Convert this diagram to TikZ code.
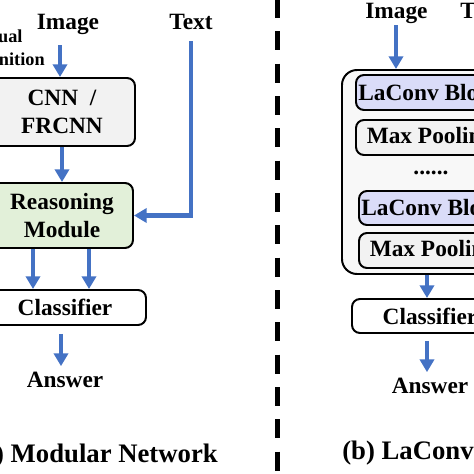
\documentclass[tikz,border=0pt]{standalone}
\usepackage{fontspec}
\setmainfont{Liberation Serif}
\usetikzlibrary{arrows.meta}

\definecolor{flowblue}{HTML}{4472C4}
\definecolor{cnngray}{HTML}{F2F2F2}
\definecolor{reasongreen}{HTML}{E2F0D9}
\definecolor{laconvblue}{HTML}{DADCF8}
\definecolor{outergray}{HTML}{F8F8F8}

\begin{document}
\begin{tikzpicture}[
  font=\bfseries\fontsize{16.6}{20}\selectfont,
  box/.style={draw, line width=1.4pt, rounded corners=0.2cm, align=center, inner sep=0pt},
  lbl/.style={inner sep=0pt, anchor=base},
  flow/.style={draw=flowblue, line width=3.5pt, -{Triangle[width=10pt,length=9pt]}}
]
  \useasboundingbox (0,0) rectangle (11.85,11.85);
  \clip (0,0) rectangle (11.85,11.85);

  % (a) modular network
  \node[lbl] (imgA) at (1.70, 11.125) {Image};
  \node[lbl] (txtA) at (4.775, 11.125) {Text};
  \node[align=center, inner sep=0pt, font=\bfseries\fontsize{13}{16.4}\selectfont] (visual) at (-0.05, 10.60) {Visual\\Recognition};
  \node[box, fill=cnngray, minimum width=3.65cm, minimum height=1.70cm] (cnn) at (1.55, 9.05) {CNN~~/\\FRCNN};
  \node[box, fill=reasongreen, minimum width=3.55cm, minimum height=1.625cm] (reason) at (1.55, 6.4625) {Reasoning\\Module};
  \node[box, fill=white, minimum width=4.05cm, minimum height=0.875cm] (clsA) at (1.625, 4.1625) {Classifier};
  \node[lbl] (ansA) at (1.625, 2.175) {Answer};
  \node[lbl, anchor=base east, font=\bfseries\fontsize{19}{23}\selectfont] (capA) at (5.45, 0.30) {(a) Modular Network};

  \coordinate (imgTailA) at (1.50, 10.725);
  \coordinate (txtTail) at (4.775, 10.825);
  \draw[flow] (imgTailA) -- (imgTailA |- cnn.north);
  \draw[flow] (cnn.south) -- (reason.north);
  \draw[flow] (txtTail) |- (reason.east);
  \draw[flow] ([xshift=-0.725cm]reason.south) -- ([xshift=-0.725cm]reason.south |- clsA.north);
  \draw[flow] ([xshift=0.675cm]reason.south) -- ([xshift=0.675cm]reason.south |- clsA.north);
  \draw[flow, shorten <=0.2cm, shorten >=0.13cm] ([xshift=-0.1cm]clsA.south) -- ([xshift=-0.1cm]clsA.south |- ansA.north);

  % separator
  \draw[line width=3.5pt, dash pattern=on 13.5pt off 9.5pt] (6.94, 11.875) -- (6.94, -0.05);

  % (b) laconvnet
  \node[lbl] (imgB) at (9.9125, 11.40) {Image};
  \node[lbl, anchor=base west] (txtB) at (11.50, 11.40) {Text};
  \node[box, fill=outergray, rounded corners=0.375cm, minimum width=4.40cm, minimum height=5.10cm] (outer) at (10.75, 7.55) {};
  \node[box, fill=laconvblue, minimum width=3.70cm, minimum height=0.875cm] (lac1) at (10.75, 9.5375) {LaConv Block};
  \node[box, fill=cnngray, minimum width=3.70cm, minimum height=0.875cm] (pool1) at (10.75, 8.4125) {Max Pooling};
  \node[lbl] (dots) at (10.775, 7.475) {......};
  \node[box, fill=laconvblue, minimum width=3.70cm, minimum height=0.85cm] (lac2) at (10.825, 6.65) {LaConv Block};
  \node[box, fill=cnngray, minimum width=3.70cm, minimum height=0.875cm] (pool2) at (10.825, 5.5875) {Max Pooling};
  \node[box, fill=white, minimum width=3.90cm, minimum height=0.85cm] (clsB) at (10.75, 3.95) {Classifier};
  \node[lbl] (ansB) at (10.75, 2.025) {Answer};
  \node[lbl, anchor=base west, font=\bfseries\fontsize{19}{23}\selectfont] (capB) at (8.55, 0.35) {(b) LaConvNet};

  \coordinate (imgTailB) at (9.90, 11.225);
  \draw[flow] (imgTailB) -- (imgTailB |- outer.north);
  \draw[flow] ([xshift=-0.075cm]outer.south) -- ([xshift=-0.075cm]outer.south |- clsB.north);
  \draw[flow, shorten <=0.175cm, shorten >=0.13cm] ([xshift=-0.075cm]clsB.south) -- ([xshift=-0.075cm]clsB.south |- ansB.north);
\end{tikzpicture}
\end{document}
